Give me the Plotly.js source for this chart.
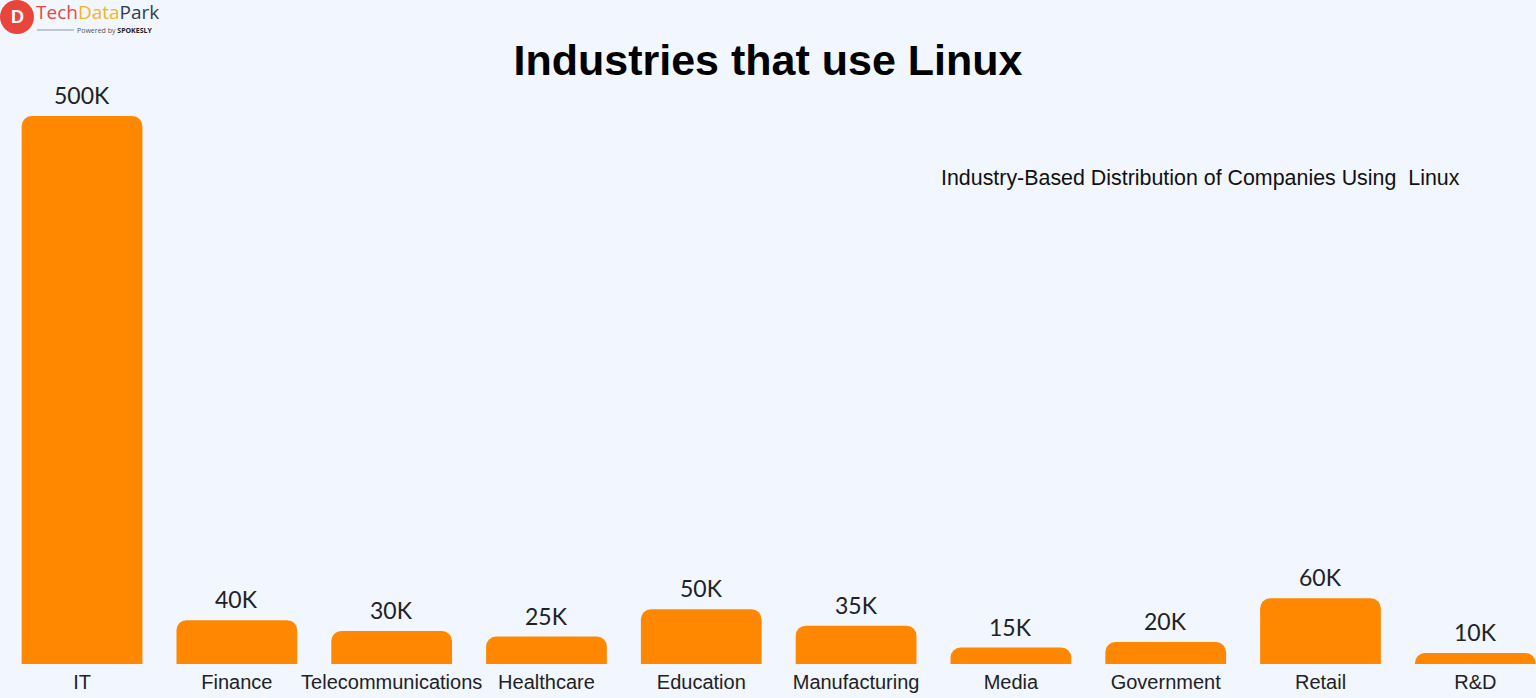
<!DOCTYPE html>
<html>
<head>
<meta charset="utf-8">
<script src="https://cdn.plot.ly/plotly-3.0.1.min.js"></script>
<style>
html,body{margin:0;padding:0;background:#F1F6FF;}
#chart{width:1536px;height:698px;}
</style>
</head>
<body>
<div id="chart"></div>
<script>
var industries = ["IT","Finance","Telecommunications","Healthcare","Education","Manufacturing","Media","Government","Retail","R&D"];
var companies = [500000,40000,30000,25000,50000,35000,15000,20000,60000,10000];
var valueLabels = ["500K","40K","30K","25K","50K","35K","15K","20K","60K","10K"];

var trace = {
  type: "bar",
  x: industries,
  y: companies,
  marker: {color: "#FF8800", cornerradius: 10},
  width: 0.78,
  hoverinfo: "x+y"
};

var valueAnnotations = industries.map(function (cat, i) {
  return {
    x: cat, y: companies[i], xref: "x", yref: "y",
    text: valueLabels[i], showarrow: false,
    xanchor: "center", yanchor: "bottom", yshift: 5,
    font: {family: "Lato, 'Open Sans', sans-serif", size: 23, color: "#222222"}
  };
});

var layout = {
  width: 1536, height: 698,
  paper_bgcolor: "#F1F6FF",
  plot_bgcolor: "#F1F6FF",
  margin: {l: 0, r: 0, t: 100, b: 34},
  showlegend: false,
  title: {
    text: "<b>Industries that use Linux</b>",
    font: {family: "'Liberation Sans', Arial, sans-serif", size: 43, color: "#000000"},
    x: 0.5, xanchor: "center", y: 0.914, yanchor: "middle"
  },
  xaxis: {
    type: "category",
    range: [-0.53, 9.392],
    showgrid: false, zeroline: false, showline: false,
    ticks: "", ticklen: 0, ticklabelstandoff: 4,
    tickfont: {family: "'Liberation Sans', Arial, sans-serif", size: 20, color: "#222222"},
    fixedrange: true
  },
  yaxis: {
    range: [0, 514600],
    visible: false,
    showgrid: false, zeroline: false,
    fixedrange: true
  },
  annotations: valueAnnotations.concat([
    {
      text: "Industry-Based Distribution of Companies Using  Linux",
      xref: "paper", yref: "paper",
      x: 1200/1536, y: 1 - (178-100)/564, xanchor: "center", yanchor: "middle",
      showarrow: false,
      font: {family: "'Liberation Sans', Arial, sans-serif", size: 21.4, color: "#111111"}
    },
    {
      text: "<span style='color:#E8453C'>Tech</span><span style='color:#F7B51C'>Data</span><span style='color:#2F3E4C'>Park</span>",
      xref: "paper", yref: "paper",
      x: 35/1536, y: 1 + (100-12)/564, xanchor: "left", yanchor: "middle",
      showarrow: false, borderpad: 0,
      font: {family: "'Open Sans', sans-serif", size: 19}
    },
    {
      text: "<span style='color:#555'>Powered by </span><b style='color:#222'>SPOKESLY</b>",
      xref: "paper", yref: "paper",
      x: 76/1536, y: 1 + (100-31)/564, xanchor: "left", yanchor: "middle",
      showarrow: false, borderpad: 0,
      font: {family: "'Open Sans', sans-serif", size: 7}
    },
    {
      text: "<b>D</b>",
      xref: "paper", yref: "paper",
      x: 17/1536, y: 1 + (100-17)/564, xanchor: "center", yanchor: "middle",
      showarrow: false, borderpad: 0,
      font: {family: "'Liberation Sans', Arial, sans-serif", size: 18, color: "#FFFFFF"}
    }
  ]),
  shapes: [
    {
      type: "circle", xref: "paper", yref: "paper",
      x0: 0, x1: 34/1536, y0: 1 + (100-34)/564, y1: 1 + (100-0)/564,
      fillcolor: "#E8453C", line: {width: 0}
    },
    {
      type: "line", xref: "paper", yref: "paper",
      x0: 37/1536, x1: 74/1536, y0: 1 + (100-30)/564, y1: 1 + (100-30)/564,
      line: {color: "#8A96A8", width: 1}
    }
  ]
};

Plotly.newPlot("chart", [trace], layout, {displayModeBar: false, staticPlot: true});
</script>
</body>
</html>
